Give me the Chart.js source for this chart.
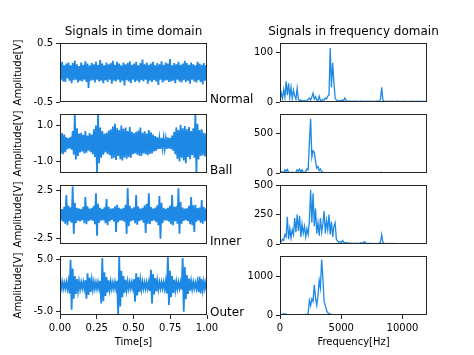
<!DOCTYPE html>
<html><head><meta charset="utf-8">
<script src="https://cdn.jsdelivr.net/npm/chart.js@4"></script>
<style>
html,body{margin:0;padding:0;background:#fff;}
#wrap{position:relative;width:474px;height:355px;overflow:hidden;background:#fff;}
canvas{position:absolute;left:0;top:0;}
</style></head><body>
<div id="wrap">
<canvas id="c0" width="474" height="355"></canvas>
<canvas id="c1" width="474" height="355"></canvas>
<canvas id="c2" width="474" height="355"></canvas>
<canvas id="c3" width="474" height="355"></canvas>
<canvas id="c4" width="474" height="355"></canvas>
<canvas id="c5" width="474" height="355"></canvas>
<canvas id="c6" width="474" height="355"></canvas>
<canvas id="c7" width="474" height="355"></canvas>
</div>
<script>
// ---------- data ----------
const conditions = ['Normal', 'Ball', 'Inner', 'Outer'];
const timeTitle = 'Signals in time domain';
const freqTitle = 'Signals in frequency domain';
const timeLabel = 'Time[s]';
const freqLabel = 'Frequency[Hz]';
const ampLabel = 'Amplitude[V]';
const timeTicks = [0, 0.25, 0.5, 0.75, 1.0];
const freqTicks = [0, 5000, 10000];
const timeYTicks = [[-0.5, 0.5], [-1, 1], [-2.5, 2.5], [-5, 5]];
const timeYLimits = [[-0.5, 0.5], [-1.65, 1.65], [-3.05, 3.05], [-5.6, 5.6]];
const freqYTicks = [[0, 100], [0, 500], [0, 250, 500], [0, 1000]];
const freqYLimits = [[0, 120], [0, 740], [0, 500], [0, 1530]];
const freqMax = 12000;
const freqBinHz = 100;

const normalTime = [
0.14,-0.12,0.18,-0.15,0.12,-0.16,0.15,-0.10,0.17,-0.14,
0.12,-0.18,0.16,-0.13,0.20,-0.12,0.14,-0.17,0.11,-0.14,
0.17,-0.15,0.13,-0.12,0.19,-0.16,0.15,-0.26,0.12,-0.14,
0.16,-0.13,0.14,-0.17,0.18,-0.12,0.13,-0.15,0.21,-0.14,
0.15,-0.18,0.12,-0.13,0.17,-0.16,0.14,-0.12,0.16,-0.19,
0.20,-0.14,0.13,-0.15,0.18,-0.12,0.15,-0.17,0.12,-0.14,
0.17,-0.22,0.14,-0.13,0.16,-0.15,0.19,-0.18,0.13,-0.12,
0.15,-0.16,0.18,-0.14,0.12,-0.17,0.16,-0.13,0.22,-0.15,
0.14,-0.12,0.17,-0.19,0.13,-0.14,0.15,-0.16,0.18,-0.13,
0.12,-0.15,0.16,-0.21,0.14,-0.12,0.19,-0.17,0.13,-0.14,
0.17,-0.13,0.15,-0.16,0.23,-0.15,0.12,-0.14,0.16,-0.18,
0.14,-0.12,0.18,-0.15,0.13,-0.17,0.15,-0.13,0.20,-0.16,
0.16,-0.14,0.13,-0.19,0.17,-0.12,0.14,-0.15,0.12,-0.17,
0.18,-0.13,0.15,-0.16,0.13,-0.20,0.16,-0.14,0.12,-0.15];

const ballTime = [
0.62,-0.55,0.58,-0.60,0.50,-0.48,0.35,-0.32,0.30,-0.28,
0.38,-0.35,0.70,-0.62,1.60,-0.90,0.85,-0.70,0.55,-0.50,
0.60,-0.45,0.48,-0.55,0.70,-0.52,0.45,-0.40,0.58,-0.48,
0.50,-0.60,0.80,-0.75,1.00,-1.62,1.64,-1.10,0.90,-0.80,
0.70,-0.62,0.55,-0.50,0.60,-0.58,0.72,-0.65,0.80,-0.85,
0.95,-0.80,1.10,-0.92,0.85,-0.70,0.75,-0.88,1.00,-0.95,
0.82,-0.78,0.90,-0.85,0.70,-0.75,0.92,-0.80,0.65,-0.60,
0.58,-0.55,0.65,-0.62,0.72,-0.68,0.90,-0.70,0.60,-0.55,
0.68,-0.60,0.55,-0.65,0.75,-0.58,0.62,-0.55,0.50,-0.45,
0.42,-0.40,0.35,-0.30,0.28,-0.30,0.32,-0.25,0.30,-0.28,
0.25,-0.30,0.35,-0.28,0.30,-0.32,0.45,-0.40,0.65,-0.60,
0.90,-0.85,0.75,-1.00,1.05,-0.80,0.85,-0.95,0.98,-1.10,
0.80,-0.75,0.92,-0.88,0.70,-0.65,0.85,-0.80,1.64,-1.62,
1.10,-0.90,0.75,-0.70,0.80,-0.65,0.60,-0.72,0.55,-0.50];

const innerTime = [
0.70,-0.60,0.55,-0.75,0.80,-0.95,2.00,-1.10,0.90,-0.70,
0.75,-0.85,2.90,-2.00,1.20,-0.90,0.70,-0.65,0.60,-0.72,
0.55,-0.60,0.80,-0.90,1.80,-1.00,0.85,-0.70,0.62,-0.58,
0.70,-0.65,0.90,-1.00,2.20,-2.20,1.10,-0.85,0.68,-0.60,
0.55,-0.62,0.75,-0.90,1.60,-1.10,0.80,-0.70,0.60,-0.55,
0.65,-0.72,0.85,-1.80,1.00,-0.80,0.68,-0.62,0.58,-0.65,
0.70,-0.75,1.00,-2.00,2.70,-1.20,0.90,-0.72,0.64,-0.60,
0.75,-0.90,2.00,-1.05,0.82,-0.68,0.60,-0.58,0.70,-0.85,
0.95,-1.90,1.10,-0.95,2.20,-1.00,0.78,-0.66,0.60,-0.62,
0.72,-0.80,0.95,-1.10,1.90,-2.50,1.20,-0.90,0.70,-0.62,
0.58,-0.64,0.70,-0.75,0.90,-1.00,2.00,-1.10,0.80,-0.70,
0.85,-0.95,2.70,-2.00,1.30,-0.95,0.72,-0.66,0.60,-0.58,
0.65,-0.70,0.90,-1.00,1.80,-1.10,0.95,-1.80,1.00,-0.75,
0.66,-0.60,0.72,-0.85,1.50,-0.95,0.78,-0.70,0.62,-0.58];

const outerTime = [
0.60,-0.55,0.70,-0.62,0.50,-0.58,0.65,-0.60,0.80,-1.50,
4.90,-4.60,3.20,-2.50,1.80,-1.60,1.20,-1.00,0.80,-0.70,
0.60,-0.55,0.65,-0.60,1.00,-2.50,2.30,-1.80,1.50,-1.20,
1.00,-0.80,0.70,-0.62,0.58,-0.65,0.60,-0.55,0.90,-3.40,
5.20,-3.00,2.50,-2.00,1.60,-1.30,1.00,-0.85,0.70,-0.62,
0.55,-0.60,0.65,-0.58,0.90,-5.50,5.50,-4.00,2.80,-2.20,
1.80,-1.40,1.10,-0.90,0.75,-0.66,0.60,-0.55,0.62,-0.58,
1.20,-3.10,2.30,-1.90,1.60,-1.20,1.00,-0.80,0.70,-0.60,
0.55,-0.62,0.60,-0.58,0.66,-1.00,3.00,-3.40,2.20,-1.70,
1.40,-1.10,0.90,-0.75,0.65,-0.58,0.60,-0.55,0.62,-0.66,
0.80,-1.50,5.50,-3.70,2.80,-2.20,1.80,-1.40,1.10,-0.90,
0.75,-0.66,0.60,-0.55,0.62,-0.80,5.20,-5.00,3.50,-2.60,
2.00,-1.60,1.30,-1.00,0.85,-0.70,0.62,-0.58,0.55,-0.60,
0.70,-1.20,1.70,-1.50,1.20,-0.90,0.75,-0.62,0.58,-0.55];

const normalFreq = [
5,18,7,25,10,42,14,38,9,30,
7,24,13,6,28,5,3,4,2,3,
3,2,3,5,8,4,10,18,6,11,
4,3,12,3,3,5,4,8,6,12,
14,110,30,80,40,8,4,3,2,3,
2,4,3,8,3,2,1.5,2,1,1.5,
1,2,1,1.5,1,1,2,1,1.5,1,
1,1.5,1,2,1,1,1.5,1,1,2,
1.5,2,5,30,4,1.5,1,1,1.5,1,
1,1,1.5,1,1,1,1.5,1,1,1,
1,1.5,1,1,1,1,1,1.5,1,1,
1,1,1,1.5,1,1,1,1,1,1,1];

const ballFreq = [
5,15,10,5,40,20,45,10,8,5,
10,5,6,10,40,20,48,15,40,12,
8,20,50,40,380,680,200,280,260,150,
60,80,30,50,15,10,6,4,3,4,
3,2,3,2,2,3,2,2,2,2,
2,2,3,2,2,2,2,2,2,2,
2,2,2,2,2,2,2,2,2,2,
2,2,2,2,2,2,2,2,2,2,
2,3,4,10,3,2,2,2,2,2,
2,2,2,2,2,2,2,2,2,2,
2,2,2,2,2,2,2,2,2,2,
2,2,2,2,2,2,2,2,2,2,2];

const innerFreq = [
10,20,40,30,80,60,230,40,130,50,
120,80,220,100,250,110,240,60,170,90,
150,60,130,80,200,460,180,430,150,300,
90,180,70,220,100,170,280,90,200,120,
250,80,190,60,150,180,40,25,15,20,
12,30,15,10,12,8,10,6,8,5,
6,5,8,5,6,5,10,6,12,20,
8,6,5,6,5,4,5,4,5,4,
5,8,15,80,15,6,4,5,4,3,
4,3,4,3,3,4,3,3,3,3,
3,3,3,3,3,3,3,3,3,3,
3,3,3,3,3,3,3,3,3,3,3];

const outerFreq = [
5,10,20,35,15,25,10,8,12,6,
10,6,8,5,12,6,8,10,6,12,
8,15,20,30,380,250,420,350,780,450,
250,500,900,700,1440,950,350,250,120,60,
40,25,15,10,8,6,5,6,4,5,
4,4,3,4,3,3,3,3,3,3,
3,3,3,3,3,3,3,3,3,3,
3,3,3,3,3,3,3,3,3,3,
3,3,4,6,3,3,3,3,3,3,
3,3,3,3,3,3,3,3,3,3,
3,3,3,3,3,3,3,3,3,3,
3,3,3,3,3,3,3,3,3,3,3];

const timeSeries = [normalTime, ballTime, innerTime, outerTime];
const freqSeries = [normalFreq, ballFreq, innerFreq, outerFreq];

// ---------- styling / layout ----------
Chart.defaults.font.family = 'DejaVu Sans';
Chart.defaults.font.size = 10;
Chart.defaults.color = '#000';
const LINE = '#1e88e5';
const FRAME = '#262626';

const framePlugin = {
  id: 'frame',
  afterDraw(chart, args, opts) {
    const {ctx, chartArea: a} = chart;
    ctx.save();
    ctx.strokeStyle = FRAME;
    ctx.lineWidth = 1;
    ctx.strokeRect(Math.round(a.left) + 0.5, Math.round(a.top) + 0.5,
                   Math.round(a.right - a.left) - 1, Math.round(a.bottom - a.top) - 1);
    ctx.fillStyle = '#000';
    if (opts && opts.label) {
      ctx.font = '12px "DejaVu Sans"';
      ctx.textAlign = 'left';
      ctx.textBaseline = 'alphabetic';
      ctx.fillText(opts.label, a.right + 3, a.bottom + 0.5);
    }
    if (opts && opts.title) {
      ctx.font = '12px "DejaVu Sans"';
      ctx.textAlign = 'center';
      ctx.textBaseline = 'middle';
      ctx.fillText(opts.title, (a.left + a.right) / 2, a.top - 11);
    }
    ctx.restore();
  }
};

function fixPad(s) { s.paddingLeft = 0; s.paddingRight = 0; s.paddingTop = 0; s.paddingBottom = 0; }

function makeChart(id, col, row) {
  const isTime = col === 0;
  const vals = isTime ? timeSeries[row] : freqSeries[row];
  const data = vals.map((v, i) => ({
    x: isTime ? i / (vals.length - 1) : i * freqBinHz,
    y: v
  }));
  const bottomRow = row === 3;
  const topRow = row === 0;
  const top = 43 + 71 * row;
  const padding = {
    left: isTime ? 12 : 232,
    right: isTime ? 267 : 47,
    top: top,
    bottom: bottomRow ? 7 : 355 - (top + 59)
  };
  const yTicks = isTime ? timeYTicks[row] : freqYTicks[row];
  const yLim = isTime ? timeYLimits[row] : freqYLimits[row];
  const xTicks = isTime ? timeTicks : freqTicks;
  const gridCfg = { display: true, drawOnChartArea: false, drawTicks: true, tickLength: 4, tickColor: FRAME, tickWidth: 1 };
  return new Chart(document.getElementById(id), {
    type: 'line',
    data: { datasets: [{ data, borderColor: LINE, borderWidth: isTime ? 1.8 : 1.3, pointRadius: 0, fill: false, tension: 0 }] },
    options: {
      responsive: false, animation: false, events: [],
      layout: { padding },
      plugins: {
        legend: { display: false }, tooltip: { enabled: false }, title: { display: false },
        frame: { label: isTime ? conditions[row] : '', title: topRow ? (isTime ? timeTitle : freqTitle) : '' }
      },
      scales: {
        x: {
          type: 'linear', display: bottomRow,
          min: 0, max: isTime ? 1 : freqMax,
          afterBuildTicks: s => { s.ticks = xTicks.map(v => ({ value: v })); },
          afterFit: s => { s.height = bottomRow ? 33 : 0; fixPad(s); },
          ticks: { autoSkip: false, maxRotation: 0, minRotation: 0, padding: 3, color: '#000',
                   callback: v => isTime ? Number(v).toFixed(2) : String(v) },
          grid: gridCfg, border: { display: false },
          title: { display: bottomRow, text: isTime ? timeLabel : freqLabel, padding: 0, font: { size: 10 }, color: '#000' }
        },
        y: {
          type: 'linear', min: yLim[0], max: yLim[1],
          afterBuildTicks: s => { s.ticks = yTicks.map(v => ({ value: v })); },
          afterFit: s => { s.width = 48; fixPad(s); },
          ticks: { autoSkip: false, padding: 3, color: '#000',
                   callback: v => isTime ? Number(v).toFixed(1) : String(v) },
          grid: gridCfg, border: { display: false },
          title: { display: isTime, text: ampLabel, padding: 0, font: { size: 10 }, color: '#000' }
        }
      }
    },
    plugins: [framePlugin]
  });
}

for (let r = 0; r < 4; r++) {
  makeChart('c' + (r * 2), 0, r);
  makeChart('c' + (r * 2 + 1), 1, r);
}
</script>
</body></html>
